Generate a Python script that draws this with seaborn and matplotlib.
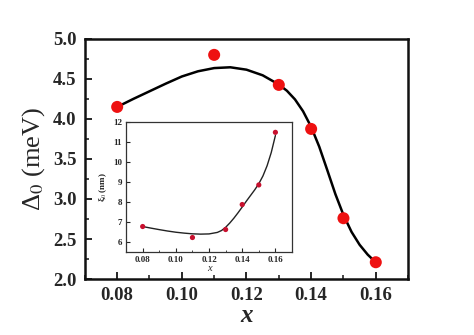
import matplotlib
matplotlib.use("Agg")
import matplotlib.pyplot as plt
from matplotlib.ticker import MultipleLocator, FormatStrFormatter
import seaborn as sns
import pandas as pd

# Superconducting gap vs doping
doping = [0.08, 0.11, 0.13, 0.14, 0.15, 0.16]
gap_mev = [4.15, 4.80, 4.425, 3.875, 2.76, 2.21]

# Smooth guide-to-the-eye curve for the gap
gap_curve_x = [0.080, 0.085, 0.090, 0.095, 0.100, 0.105, 0.110, 0.115,
               0.120, 0.125, 0.130, 0.1325, 0.135, 0.1375, 0.140, 0.1425,
               0.145, 0.1475, 0.150, 0.1525, 0.155, 0.1575, 0.160]
gap_curve_y = [4.15, 4.25, 4.345, 4.44, 4.53, 4.595, 4.635, 4.645,
               4.615, 4.545, 4.43, 4.352, 4.244, 4.096, 3.901, 3.654,
               3.36, 3.061, 2.80, 2.589, 2.428, 2.305, 2.208]

# Coherence length vs doping
xi_nm = [6.77, 6.22, 6.62, 7.87, 8.85, 11.48]
xi_curve_x = [0.080, 0.085, 0.090, 0.095, 0.100, 0.105, 0.110, 0.115, 0.120,
              0.125, 0.1275, 0.130, 0.1325, 0.135, 0.1375, 0.140, 0.1425,
              0.145, 0.1475, 0.150, 0.1525, 0.155, 0.1575, 0.160]
xi_curve_y = [6.77, 6.69, 6.615, 6.545, 6.485, 6.44, 6.405, 6.39, 6.40,
              6.475, 6.569, 6.73, 6.945, 7.19, 7.46, 7.745, 8.04,
              8.32, 8.60, 8.91, 9.30, 9.81, 10.47, 11.32]

main_yticks = [2.0, 2.5, 3.0, 3.5, 4.0, 4.5, 5.0]
xticks = [0.08, 0.10, 0.12, 0.14, 0.16]
inset_yticks = [6, 7, 8, 9, 10, 11, 12]

sns.set_theme(style="ticks")
plt.rcParams["font.family"] = ["Liberation Serif", "DejaVu Serif"]
plt.rcParams["mathtext.fontset"] = "stix"
plt.rcParams["xtick.direction"] = "in"
plt.rcParams["ytick.direction"] = "in"

pts = pd.DataFrame({"x": doping, "gap": gap_mev, "xi": xi_nm})
gap_fit = pd.DataFrame({"x": gap_curve_x, "y": gap_curve_y})
xi_fit = pd.DataFrame({"x": xi_curve_x, "y": xi_curve_y})

fig = plt.figure(figsize=(4.74, 3.35), dpi=100)
ax = fig.add_axes([0.179, 0.167, 0.682, 0.717])

sns.lineplot(data=gap_fit, x="x", y="y", ax=ax, color="black", linewidth=1.8,
             sort=False, estimator=None, zorder=2)
sns.scatterplot(data=pts, x="x", y="gap", ax=ax, color="#ee1111", s=75,
                edgecolor="none", zorder=3)

ax.set_xlim(0.07, 0.17)
ax.set_ylim(2.0, 5.0)
ax.set_xticks(xticks)
ax.set_yticks(main_yticks)
ax.xaxis.set_minor_locator(MultipleLocator(0.01))
ax.yaxis.set_minor_locator(MultipleLocator(0.25))
ax.xaxis.set_major_formatter(FormatStrFormatter("%.2f"))
ax.yaxis.set_major_formatter(FormatStrFormatter("%.1f"))
ax.tick_params(which="major", length=5, width=1.4, labelsize=13.5, pad=6)
ax.tick_params(which="minor", length=3, width=1.2)
for lab in ax.get_xticklabels() + ax.get_yticklabels():
    lab.set_fontweight("bold")
for sp in ax.spines.values():
    sp.set_linewidth(1.8)
    sp.set_color("#111111")
ax.set_xlabel("x", fontsize=18, fontweight="bold", style="italic", labelpad=0)
ax.set_ylabel("Δ$_0$ (meV)", fontsize=19, labelpad=4)

# Inset: coherence length
ins = fig.add_axes([0.266, 0.248, 0.350, 0.388])
sns.lineplot(data=xi_fit, x="x", y="y", ax=ins, color="#222222", linewidth=1.0,
             sort=False, estimator=None, zorder=2)
sns.scatterplot(data=pts, x="x", y="xi", ax=ins, color="#c8102e", s=14,
                edgecolor="none", zorder=3)
ins.set_xlim(0.07, 0.17)
ins.set_ylim(5.5, 12)
ins.set_xticks(xticks)
ins.set_yticks(inset_yticks)
ins.xaxis.set_minor_locator(MultipleLocator(0.01))
ins.xaxis.set_major_formatter(FormatStrFormatter("%.2f"))
ins.tick_params(which="major", length=3, width=0.8, labelsize=6.5, pad=3)
ins.tick_params(which="minor", length=1.5, width=0.6)
for lab in ins.get_xticklabels() + ins.get_yticklabels():
    lab.set_fontweight("bold")
for sp in ins.spines.values():
    sp.set_linewidth(0.9)
    sp.set_color("#333333")
ins.set_xlabel("x", fontsize=7.5, style="italic", labelpad=0)
ins.set_ylabel("ξ$_0$ (nm)", fontsize=6.5, fontweight="bold", labelpad=3)

fig.savefig("out.png", dpi=100)
